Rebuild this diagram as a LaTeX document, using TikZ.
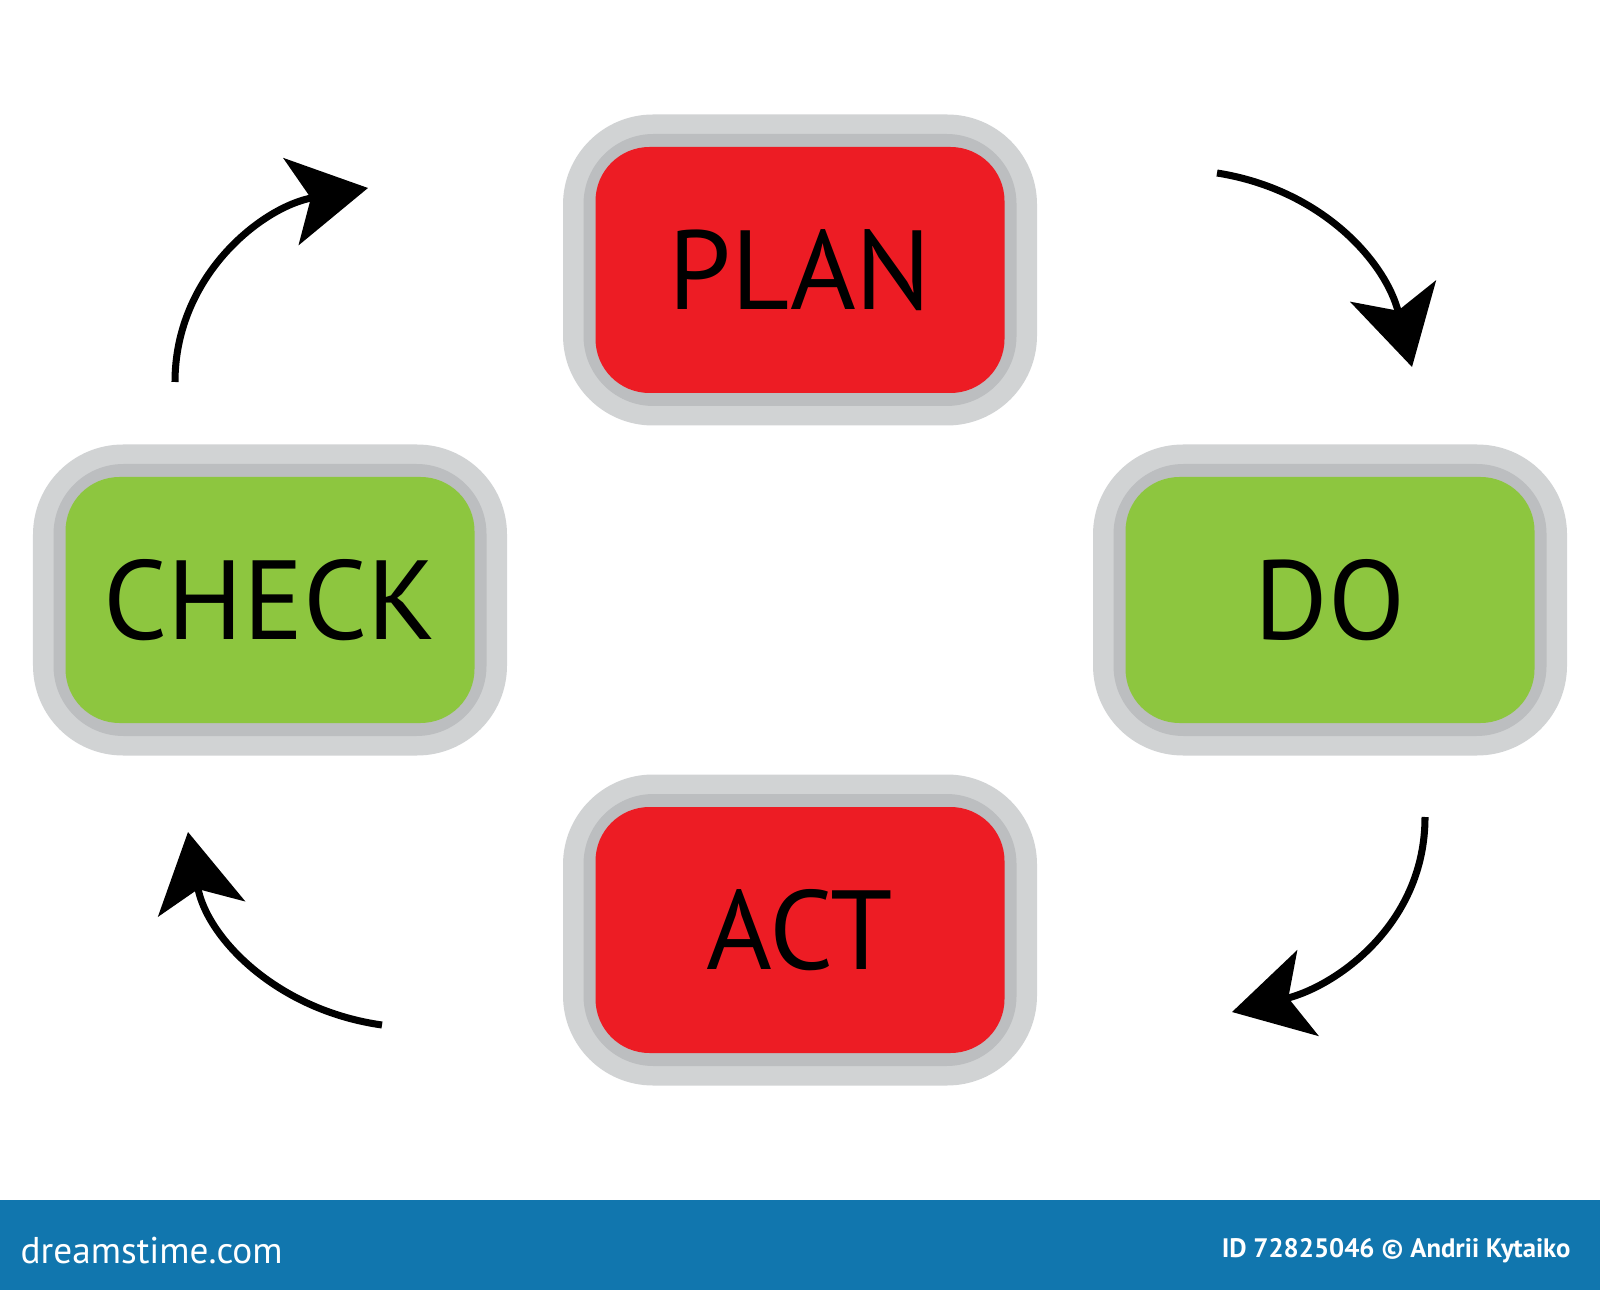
\documentclass[tikz,border=0pt]{standalone}
\usepackage{fontspec}
\setmainfont{PT Sans}
\usepackage{tikz}
\usetikzlibrary{arrows.meta}

\definecolor{pdcared}{HTML}{ED1C24}
\definecolor{pdcagreen}{HTML}{8DC63F}
\definecolor{shellgray}{HTML}{D1D3D4}
\definecolor{rimgray}{HTML}{BCBEC0}
\definecolor{barblue}{HTML}{1176AE}

\begin{document}
\begin{tikzpicture}

		\useasboundingbox (0,0) rectangle (16,12.9);
		\tikzstyle{shell} = [rounded corners=9mm, minimum width=4.74cm, minimum height=3.11cm, fill=shellgray, inner sep=0pt]
		\tikzstyle{rim} = [rounded corners=7mm, minimum width=4.33cm, minimum height=2.72cm, fill=rimgray, inner sep=0pt]
		\tikzstyle{stage} = [rounded corners=5.4mm, minimum width=4.09cm, minimum height=2.46cm, inner sep=0pt, font=\fontsize{32}{36}\selectfont]
		\tikzstyle{cyclearrow} = [line width=2pt, -{Stealth[length=7.8mm, width=8.8mm, inset=2mm]}]

		% the four stages
		\node [shell](plan-shell) at (8,10.2) {};
		\node [rim](plan-rim) at (plan-shell) {};
		\node [stage, fill=pdcared](plan) at (plan-shell) {PLAN};
		\node [shell](do-shell) at (13.3,6.9) {};
		\node [rim](do-rim) at (do-shell) {};
		\node [stage, fill=pdcagreen](do) at (do-shell) {DO};
		\node [shell](act-shell) at (8,3.6) {};
		\node [rim](act-rim) at (act-shell) {};
		\node [stage, fill=pdcared](act) at (act-shell) {ACT};
		\node [shell](check-shell) at (2.7,6.9) {};
		\node [rim](check-rim) at (check-shell) {};
		\node [stage, fill=pdcagreen](check) at (check-shell) {CHECK};

		% arrows round the cycle
		\coordinate (tr1) at (12.17,11.17);
		\coordinate (tr2) at (14.12,9.23);
		\coordinate (br1) at (14.25,4.73);
		\coordinate (br2) at (12.32,2.78);
		\coordinate (bl1) at (3.82,2.65);
		\coordinate (bl2) at (1.88,4.58);
		\coordinate (tl1) at (1.75,9.08);
		\coordinate (tl2) at (3.68,11.02);
		\draw [cyclearrow] (tr1) to[out=-9, in=104] (tr2);
		\draw [cyclearrow] (br1) to[out=-90, in=14] (br2);
		\draw [cyclearrow] (bl1) to[out=172, in=-80] (bl2);
		\draw [cyclearrow] (tl1) to[out=90, in=190] (tl2);

		% footer bar
		\fill [barblue] (0,0) rectangle (16,0.9);
		\node [anchor=west, inner sep=0pt, text=white, font=\fontsize{10.6}{12}\selectfont](site) at (0.2,0.39) {dreamstime.com};
		\node [anchor=east, inner sep=0pt, text=white, font=\bfseries\fontsize{7.6}{9}\selectfont](credit) at (15.71,0.39) {ID 72825046 © Andrii Kytaiko};

	\end{tikzpicture}
\end{document}
